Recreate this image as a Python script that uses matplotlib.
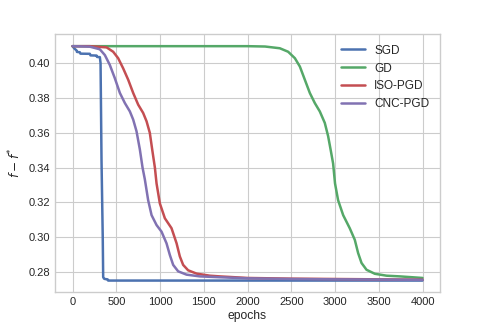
import matplotlib
matplotlib.use('Agg')
import matplotlib.pyplot as plt

# values
sgd_x = [0, 20, 46, 50, 83, 90, 198, 205, 274, 280, 312, 320, 331, 345, 350, 360, 370, 400, 407, 1000, 2000, 3000, 4000]
sgd_y = [0.4098, 0.4085, 0.4073, 0.4065, 0.4063, 0.4055, 0.4054, 0.4045, 0.4044, 0.4036, 0.4035, 0.4000, 0.3440, 0.3000, 0.2771, 0.2762, 0.2760, 0.2758, 0.2751, 0.2751, 0.2751, 0.2751, 0.2751]

gd_x = [0, 500, 1000, 1500, 2000, 2200, 2369, 2464, 2541, 2598, 2655, 2712, 2769, 2826, 2883, 2921, 2949, 2978, 3000,
        3035, 3093, 3169, 3226, 3264, 3303, 3360, 3455, 3589, 3741, 4000]
gd_y = [0.4098, 0.4098, 0.4098, 0.4098, 0.4098, 0.4096, 0.4086, 0.4066, 0.4029, 0.3981, 0.3905, 0.3829, 0.3771, 0.3723, 0.3657, 0.3581, 0.3505, 0.3424, 0.3309,
        0.3213, 0.3127, 0.3051, 0.2985, 0.2909, 0.2852, 0.2813, 0.2790, 0.2779, 0.2775, 0.2766]

iso_x = [0, 198, 389, 464, 521, 578, 636, 693, 750, 807, 846, 883, 910, 941, 960, 998, 1055, 1131, 1189, 1226, 1264, 1321, 1417, 1569, 1683,
         2000, 2500, 3000, 3500, 4000]
iso_y = [0.4098, 0.4098, 0.4091, 0.4066, 0.4029, 0.3971, 0.3905, 0.3829, 0.3762, 0.3714, 0.3666, 0.3600, 0.3505, 0.3400, 0.3309, 0.3194, 0.3109, 0.3052, 0.2965, 0.2890, 0.2841, 0.2810, 0.2791, 0.2779, 0.2775,
         0.2766, 0.2762, 0.2760, 0.2758, 0.2756]

cnc_x = [0, 198, 312, 369, 426, 483, 541, 598, 655, 693, 731, 769, 800, 826, 864, 903, 960, 1017, 1074, 1112, 1150, 1207, 1303, 1455, 1683,
         2000, 2500, 3000, 3500, 4000]
cnc_y = [0.4098, 0.4095, 0.4080, 0.4047, 0.3990, 0.3914, 0.3829, 0.3771, 0.3723, 0.3676, 0.3609, 0.3505, 0.3400, 0.3333, 0.3213, 0.3127, 0.3070, 0.3032, 0.2965, 0.2898, 0.2841, 0.2804, 0.2785, 0.2775, 0.2770,
         0.2764, 0.2760, 0.2758, 0.2757, 0.2755]

plt.style.use('seaborn-v0_8-whitegrid')
plt.rcParams['font.family'] = ['Liberation Sans', 'DejaVu Sans']
plt.rcParams['mathtext.fontset'] = 'dejavusans'

fig = plt.figure(figsize=(4.83, 3.3), dpi=100)
ax = fig.add_axes([0.114, 0.115, 0.797, 0.782])

ax.plot(sgd_x, sgd_y, color='#4C72B0', lw=1.8, label='SGD')
ax.plot(gd_x, gd_y, color='#55A868', lw=1.8, label='GD')
ax.plot(iso_x, iso_y, color='#C44E52', lw=1.8, label='ISO-PGD')
ax.plot(cnc_x, cnc_y, color='#8172B2', lw=1.8, label='CNC-PGD')

ax.set_xlim(-200, 4200)
ax.set_ylim(0.2685, 0.4168)
ax.set_xticks([0, 500, 1000, 1500, 2000, 2500, 3000, 3500, 4000])
ax.set_yticks([0.28, 0.30, 0.32, 0.34, 0.36, 0.38, 0.40])
ax.tick_params(labelsize=8)

ax.set_xlabel('epochs', fontsize=8.7, labelpad=2)
ax.set_ylabel('$f - f^{*}$', fontsize=8.7)
ax.legend(loc='upper right', fontsize=8.5, frameon=False)

fig.savefig('out.png', dpi=100)
